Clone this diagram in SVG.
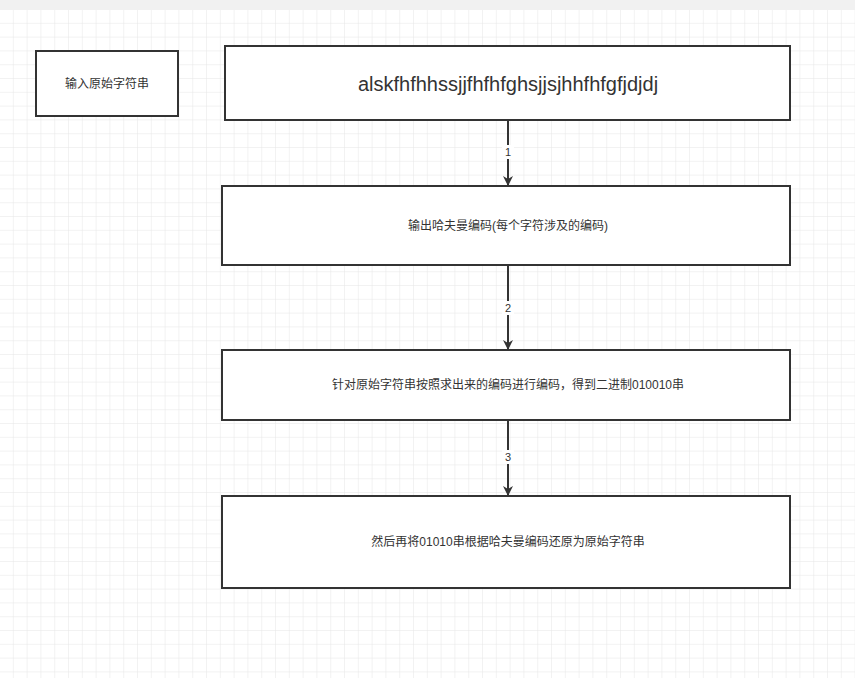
<svg xmlns="http://www.w3.org/2000/svg" width="855" height="678" viewBox="0 0 855 678">
<defs>
<pattern id="g" width="13.8" height="13.8" patternUnits="userSpaceOnUse" x="0" y="10">
<path d="M13.8 0V13.8M0 13.8H13.8" fill="none" stroke="#e6e6e6" stroke-width="1"/>
</pattern>
<marker id="a" viewBox="0 0 10 10" refX="9" refY="5" markerWidth="5" markerHeight="5" orient="auto" markerUnits="strokeWidth">
<path d="M0 0L10 5L0 10L3 5Z" fill="#333"/>
</marker>
</defs>
<style>
.b{fill:#fff;stroke:#333;stroke-width:2}
.t{font-family:"Liberation Sans","Noto Sans CJK SC",sans-serif;font-size:12px;fill:#333;text-anchor:middle;dominant-baseline:central}
.c{stroke:#333;stroke-width:2;fill:none;marker-end:url(#a)}
.l{font-family:"Liberation Sans",sans-serif;font-size:11px;fill:#333;text-anchor:middle;dominant-baseline:central}
</style>
<rect width="855" height="678" fill="#fff"/>
<rect y="10" width="855" height="668" fill="url(#g)"/>
<rect width="855" height="10" fill="#f1f1f1"/>
<g id="n0"><rect class="b" x="36" y="51" width="142" height="65"/><text class="t" x="107" y="84">输入原始字符串</text></g>
<g id="n1"><rect class="b" x="225" y="46" width="565" height="74"/><text class="t" x="508" y="84" style="font-size:20px">alskfhfhhssjjfhfhfghsjjsjhhfhfgfjdjdj</text></g>
<g id="n2"><rect class="b" x="222" y="186" width="568" height="79"/><text class="t" x="508" y="226">输出哈夫曼编码(每个字符涉及的编码)</text></g>
<g id="n3"><rect class="b" x="222" y="350" width="568" height="70"/><text class="t" x="508" y="385">针对原始字符串按照求出来的编码进行编码，得到二进制010010串</text></g>
<g id="n4"><rect class="b" x="222" y="496" width="568" height="92"/><text class="t" x="508" y="542">然后再将01010串根据哈夫曼编码还原为原始字符串</text></g>
<g id="edges">
<path class="c" d="M508 121V185"/>
<path class="c" d="M508 266V349"/>
<path class="c" d="M508 421V495"/>
<rect x="502" y="145" width="12" height="14" fill="#fff"/><text class="l" x="508" y="152">1</text>
<rect x="502" y="301" width="12" height="14" fill="#fff"/><text class="l" x="508" y="308">2</text>
<rect x="502" y="450" width="12" height="14" fill="#fff"/><text class="l" x="508" y="457">3</text>
</g>
</svg>
